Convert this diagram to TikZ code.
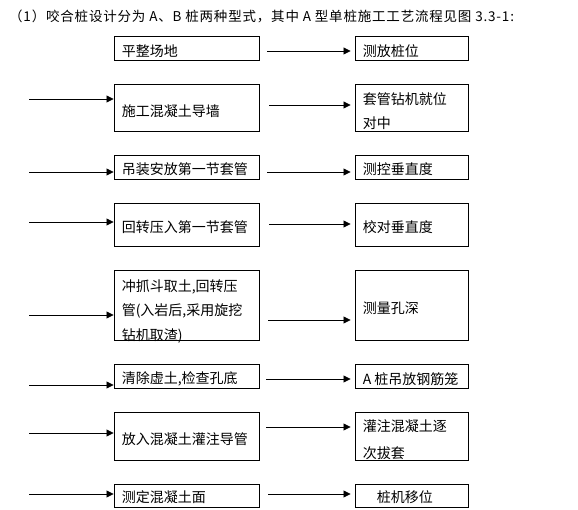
\documentclass[tikz,border=0pt]{standalone}
\usepackage{fontspec}
\setmainfont{Noto Sans CJK SC}
\newfontfamily\titlefont[LetterSpace=6]{Noto Sans CJK SC}
\usetikzlibrary{arrows.meta}
\begin{document}
\begin{tikzpicture}[x=1pt,y=-1pt,
  every node/.style={font=\fontsize{14}{24.5}\selectfont},
  boxbase/.style={draw,line width=0.9pt,inner sep=0pt},
  lbox/.style={boxbase,minimum width=145pt},
  rbox/.style={boxbase,minimum width=113pt},
  boxtext/.style={anchor=west,inner sep=0pt,align=left},
  arr/.style={line width=0.8pt,-{Triangle[length=7pt,width=7pt]}}]
\useasboundingbox (0,0) rectangle (578,510);
\node[anchor=west,inner sep=0pt,font=\titlefont\fontsize{13.5}{16}\selectfont] (title) at (9,16) {（1）咬合桩设计分为 A、B 桩两种型式，其中 A 型单桩施工工艺流程见图 3.3-1:};
% left boxes
\node[lbox,minimum height=24pt] (L1) at (186.5,48) {};
\node[lbox,minimum height=47pt] (L2) at (186.5,107.5) {};
\node[lbox,minimum height=24pt] (L3) at (186.5,167) {};
\node[lbox,minimum height=43pt] (L4) at (186.5,224.5) {};
\node[lbox,minimum height=70pt] (L5) at (186.5,305) {};
\node[lbox,minimum height=24pt] (L6) at (186.5,376) {};
\node[lbox,minimum height=48pt] (L7) at (186.5,436) {};
\node[lbox,minimum height=23pt] (L8) at (186.5,495.5) {};
% right boxes
\node[rbox,minimum height=24pt] (R1) at (411.5,48) {};
\node[rbox,minimum height=47pt] (R2) at (411.5,107.5) {};
\node[rbox,minimum height=24pt] (R3) at (411.5,167) {};
\node[rbox,minimum height=43pt] (R4) at (411.5,224.5) {};
\node[rbox,minimum height=70pt] (R5) at (411.5,305) {};
\node[rbox,minimum height=24pt] (R6) at (411.5,376) {};
\node[rbox,minimum height=48pt] (R7) at (411.5,436) {};
\node[rbox,minimum height=23pt] (R8) at (411.5,495.5) {};
% box texts
\node[boxtext] (tL1) at ([shift={(8,3.5)}]L1.west) {平整场地};
\node[boxtext] (tL2) at ([shift={(8,3.5)}]L2.west) {施工混凝土导墙};
\node[boxtext] (tL3) at ([shift={(8,2.5)}]L3.west) {吊装安放第一节套管};
\node[boxtext] (tL4) at ([shift={(8,3)}]L4.west) {回转压入第一节套管};
\node[boxtext] (tL5) at ([shift={(8,6)}]L5.west) {冲抓斗取土,回转压\\管(入岩后,采用旋挖\\钻机取渣)};
\node[boxtext] (tL6) at ([shift={(8,3)}]L6.west) {清除虚土,检查孔底};
\node[boxtext] (tL7) at ([shift={(8,3)}]L7.west) {放入混凝土灌注导管};
\node[boxtext] (tL8) at ([shift={(8,2)}]L8.west) {测定混凝土面};
\node[boxtext] (tR1) at ([shift={(8,3.5)}]R1.west) {测放桩位};
\node[boxtext] (tR2) at ([shift={(8,3.5)}]R2.west) {套管钻机就位\\对中};
\node[boxtext] (tR3) at ([shift={(8,2.5)}]R3.west) {测控垂直度};
\node[boxtext] (tR4) at ([shift={(8,3)}]R4.west) {校对垂直度};
\node[boxtext] (tR5) at ([shift={(8,3)}]R5.west) {测量孔深};
\node[boxtext] (tR6) at ([shift={(8,3)}]R6.west) {A 桩吊放钢筋笼};
\node[boxtext,font=\fontsize{14}{26.5}\selectfont] (tR7) at ([shift={(8,3.5)}]R7.west) {灌注混凝土逐\\次拔套};
\node[boxtext] (tR8) at ([shift={(22,2)}]R8.west) {桩机移位};
% left incoming arrows
\foreach \i/\y in {2/99,3/172,4/222,5/315,6/385,7/433,8/494}{
  \coordinate (s\i) at (29,\y);
  \draw[arr] (s\i) -- (L\i.west |- s\i);
}
% middle arrows
\foreach \i/\y/\a in {1/51/8,2/105/10,3/172/8,4/224/10,5/320/9,6/379/7,7/427/7,8/494/9}{
  \coordinate (m\i) at (0,\y);
  \draw[arr,shorten <=\a pt,shorten >=4pt] (L\i.east |- m\i) -- (R\i.west |- m\i);
}
\end{tikzpicture}
\end{document}
